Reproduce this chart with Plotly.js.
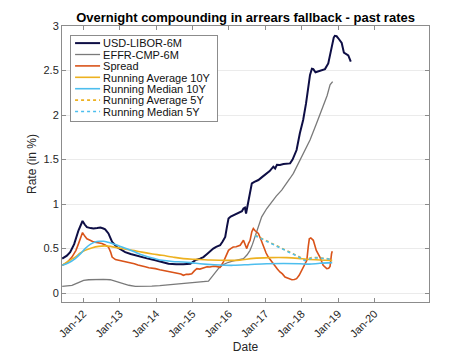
<!DOCTYPE html>
<html>
<head>
<meta charset="utf-8">
<script src="https://cdn.plot.ly/plotly-3.0.1.min.js"></script>
<style>html,body{margin:0;padding:0;background:#fff;}#chart{width:474px;height:355px;}</style>
</head>
<body>
<div id="chart"></div>
<script>
// Dates given as decimal years
const liborT = [2011.42,2011.55,2011.64,2011.75,2011.87,2011.95,2011.98,2012.04,2012.10,2012.20,2012.28,2012.38,2012.47,2012.55,2012.60,2012.69,2012.79,2012.92,2013.05,2013.15,2013.30,2013.52,2013.75,2013.98,2014.15,2014.34,2014.55,2014.75,2014.94,2015.03,2015.08,2015.21,2015.30,2015.40,2015.48,2015.57,2015.65,2015.76,2015.83,2015.90,2015.95,2015.99,2016.05,2016.12,2016.20,2016.30,2016.36,2016.40,2016.44,2016.47,2016.53,2016.58,2016.63,2016.70,2016.81,2016.90,2017.04,2017.12,2017.22,2017.27,2017.32,2017.40,2017.50,2017.60,2017.68,2017.75,2017.82,2017.86,2017.95,2018.00,2018.04,2018.12,2018.18,2018.23,2018.28,2018.32,2018.38,2018.46,2018.55,2018.64,2018.73,2018.78,2018.82,2018.88,2018.91,2018.96,2019.00,2019.05,2019.10,2019.16,2019.23,2019.28,2019.31,2019.35];
const liborV = [0.387,0.42,0.46,0.55,0.706,0.79,0.81,0.77,0.74,0.73,0.725,0.73,0.736,0.725,0.717,0.67,0.575,0.518,0.48,0.46,0.44,0.413,0.39,0.368,0.35,0.33,0.325,0.323,0.33,0.36,0.37,0.387,0.405,0.44,0.47,0.50,0.52,0.537,0.58,0.63,0.75,0.838,0.86,0.875,0.89,0.91,0.92,0.95,0.96,0.894,1.025,1.15,1.232,1.25,1.27,1.30,1.345,1.37,1.42,1.40,1.44,1.438,1.45,1.455,1.457,1.50,1.57,1.607,1.795,1.87,1.945,2.13,2.30,2.45,2.52,2.516,2.48,2.49,2.51,2.516,2.58,2.68,2.79,2.87,2.89,2.885,2.865,2.84,2.81,2.70,2.68,2.67,2.64,2.60];

const effrT = [2011.42,2011.55,2011.69,2011.85,2012.01,2012.15,2012.33,2012.55,2012.74,2012.90,2013.06,2013.25,2013.43,2013.65,2013.88,2014.10,2014.34,2014.55,2014.75,2015.03,2015.25,2015.44,2015.55,2015.71,2015.85,2015.94,2016.10,2016.25,2016.40,2016.50,2016.58,2016.65,2016.72,2016.80,2016.90,2017.04,2017.18,2017.30,2017.45,2017.55,2017.68,2017.77,2017.90,2018.05,2018.23,2018.40,2018.59,2018.70,2018.78,2018.85];
const effrV = [0.075,0.078,0.087,0.115,0.143,0.15,0.154,0.155,0.15,0.13,0.105,0.088,0.075,0.075,0.079,0.085,0.094,0.102,0.113,0.124,0.13,0.135,0.19,0.275,0.32,0.338,0.36,0.37,0.387,0.43,0.48,0.55,0.63,0.73,0.856,0.95,1.03,1.09,1.157,1.22,1.29,1.345,1.45,1.57,1.72,1.90,2.095,2.22,2.34,2.376];

const spreadT = [2011.42,2011.55,2011.69,2011.80,2011.87,2011.95,2011.98,2012.04,2012.10,2012.20,2012.28,2012.40,2012.51,2012.60,2012.69,2012.75,2012.79,2012.88,2013.05,2013.15,2013.24,2013.32,2013.40,2013.50,2013.61,2013.70,2013.80,2013.90,2013.98,2014.10,2014.20,2014.30,2014.39,2014.50,2014.60,2014.68,2014.75,2014.83,2014.90,2014.98,2015.05,2015.12,2015.20,2015.30,2015.40,2015.48,2015.57,2015.65,2015.76,2015.85,2015.93,2015.99,2016.05,2016.12,2016.20,2016.31,2016.40,2016.45,2016.49,2016.54,2016.58,2016.63,2016.67,2016.72,2016.81,2016.88,2016.95,2017.02,2017.08,2017.18,2017.27,2017.33,2017.40,2017.47,2017.54,2017.65,2017.73,2017.80,2017.86,2017.93,2018.00,2018.07,2018.14,2018.18,2018.21,2018.25,2018.32,2018.40,2018.50,2018.59,2018.64,2018.69,2018.74,2018.78,2018.82,2018.84];
const spreadV = [0.312,0.34,0.405,0.48,0.556,0.65,0.68,0.64,0.61,0.59,0.575,0.565,0.556,0.54,0.518,0.46,0.405,0.376,0.36,0.355,0.35,0.335,0.33,0.315,0.30,0.295,0.285,0.282,0.275,0.262,0.255,0.245,0.237,0.232,0.225,0.215,0.20,0.212,0.21,0.218,0.25,0.275,0.27,0.285,0.295,0.293,0.302,0.30,0.29,0.35,0.42,0.48,0.50,0.518,0.52,0.537,0.593,0.55,0.50,0.56,0.59,0.69,0.725,0.70,0.67,0.60,0.518,0.45,0.405,0.35,0.293,0.27,0.237,0.215,0.18,0.16,0.15,0.152,0.162,0.20,0.256,0.30,0.368,0.52,0.61,0.62,0.593,0.48,0.405,0.312,0.29,0.275,0.28,0.30,0.443,0.47];

const avg10T = [2011.42,2011.60,2011.78,2011.92,2012.05,2012.25,2012.42,2012.60,2012.74,2013.06,2013.35,2013.61,2013.90,2014.16,2014.45,2014.75,2015.00,2015.20,2015.50,2015.94,2016.30,2016.67,2017.10,2017.59,2017.90,2018.14,2018.50,2018.84];
const avg10V = [0.312,0.36,0.405,0.45,0.48,0.51,0.525,0.53,0.525,0.50,0.48,0.46,0.44,0.425,0.405,0.387,0.38,0.378,0.372,0.368,0.37,0.39,0.398,0.398,0.39,0.38,0.372,0.368];

const med10T = [2011.42,2011.60,2011.78,2011.92,2012.05,2012.20,2012.33,2012.45,2012.56,2012.68,2012.79,2013.06,2013.25,2013.43,2013.60,2013.79,2013.98,2014.16,2014.45,2014.75,2015.00,2015.21,2015.60,2016.12,2016.60,2017.04,2017.50,2017.95,2018.20,2018.50,2018.84];
const med10V = [0.312,0.34,0.387,0.44,0.50,0.55,0.575,0.582,0.582,0.57,0.556,0.518,0.49,0.46,0.43,0.405,0.385,0.368,0.355,0.35,0.34,0.33,0.318,0.312,0.322,0.33,0.332,0.33,0.325,0.335,0.342];

const avg5T = [2016.72,2017.00,2017.30,2017.60,2017.90,2018.09,2018.18,2018.27,2018.40,2018.55,2018.70,2018.84];
const avg5V = [0.65,0.595,0.54,0.48,0.415,0.37,0.385,0.40,0.40,0.395,0.39,0.38];
const med5T = [2016.72,2017.00,2017.30,2017.60,2017.90,2018.09,2018.18,2018.27,2018.40,2018.55,2018.70,2018.84];
const med5V = [0.645,0.59,0.535,0.475,0.41,0.365,0.38,0.392,0.395,0.392,0.385,0.375];

const tickYears = [2012,2013,2014,2015,2016,2017,2018,2019,2020];
const tickLabels = ['Jan-12','Jan-13','Jan-14','Jan-15','Jan-16','Jan-17','Jan-18','Jan-19','Jan-20'];

function toDate(d){
  const y = Math.floor(d);
  const a = Date.UTC(y,0,1), b = Date.UTC(y+1,0,1);
  return new Date(a + (d - y)*(b - a)).toISOString().slice(0,10);
}
const conv = arr => arr.map(toDate);

const traces = [
  {name:'USD-LIBOR-6M', x:conv(liborT), y:liborV, line:{color:'#0e0e45', width:2}},
  {name:'EFFR-CMP-6M', x:conv(effrT), y:effrV, line:{color:'#7a7a7a', width:1.3}},
  {name:'Spread', x:conv(spreadT), y:spreadV, line:{color:'#D95319', width:1.6}},
  {name:'Running Average 10Y', x:conv(avg10T), y:avg10V, line:{color:'#EDB120', width:1.6, shape:'spline'}},
  {name:'Running Median 10Y', x:conv(med10T), y:med10V, line:{color:'#4DBEEE', width:1.6, shape:'spline'}},
  {name:'Running Average 5Y', x:conv(avg5T), y:avg5V, line:{color:'#EDB120', width:1.6, dash:'dot'}},
  {name:'Running Median 5Y', x:conv(med5T), y:med5V, line:{color:'#4DBEEE', width:1.6, dash:'dot'}}
].map(t => Object.assign({type:'scatter', mode:'lines'}, t));

const axisCommon = {
  showline:true, linecolor:'#8c8c8c', linewidth:1, mirror:'ticks',
  ticks:'inside', ticklen:4, tickcolor:'#8c8c8c', zeroline:false,
  tickfont:{family:'Liberation Sans, Arial, sans-serif', size:11, color:'#262626'},
  automargin:false
};

const layout = {
  width:474, height:355,
  margin:{l:62, r:45, t:26, b:53},
  paper_bgcolor:'#fff', plot_bgcolor:'#fff',
  font:{family:'Liberation Sans, Arial, sans-serif', color:'#262626'},
  title:{text:'<b>Overnight compounding in arrears fallback - past rates</b>', font:{size:13, color:'#000'}, x:0.518, xref:'container', y:0.952, yref:'container', yanchor:'middle', xanchor:'center'},
  xaxis:Object.assign({}, axisCommon, {
    type:'date', range:['2011-06-01','2021-07-01'],
    tickmode:'array', tickvals:tickYears.map(y => y + '-01-01'), ticktext:tickLabels,
    tickangle:-45, showgrid:false,
    title:{text:'Date', font:{size:12, color:'#262626'}, standoff:2}
  }),
  yaxis:Object.assign({}, axisCommon, {
    range:[-0.1, 3], tickmode:'array', tickvals:[0,0.5,1,1.5,2,2.5,3], ticktext:['0','0.5','1','1.5','2','2.5','3'],
    showgrid:true, gridcolor:'#ebebeb', gridwidth:1,
    title:{text:'Rate (in %)', font:{size:12, color:'#262626'}, standoff:4}
  }),
  showlegend:true,
  legend:{x:0.022, y:0.967, xanchor:'left', yanchor:'top', bgcolor:'#fff', bordercolor:'#8c8c8c', borderwidth:1,
    font:{family:'Liberation Sans, Arial, sans-serif', size:11, color:'#111'}, tracegroupgap:0, itemwidth:30}
};

const gd = document.getElementById('chart');
Plotly.newPlot(gd, traces, layout, {staticPlot:true, displayModeBar:false}).then(() => {
  // compact legend rows and samples (MATLAB-like)
  const items = gd.querySelectorAll('.legend .traces');
  const step = 11.4, y0 = 8, shift = 7;
  items.forEach((g, i) => {
    g.setAttribute('transform', 'translate(0,' + (y0 + i*step) + ')');
    g.querySelectorAll('.legendlines path').forEach(p => p.setAttribute('d', 'M5,0h25'));
    const t = g.querySelector('text.legendtext');
    if (t) t.setAttribute('x', (parseFloat(t.getAttribute('x')) || 40) - shift);
  });
  const bg = gd.querySelector('.legend rect.bg');
  if (bg) {
    bg.setAttribute('height', 2*y0 + (items.length-1)*step + 1);
    bg.setAttribute('width', parseFloat(bg.getAttribute('width')) - shift);
  }
});
</script>
</body>
</html>
